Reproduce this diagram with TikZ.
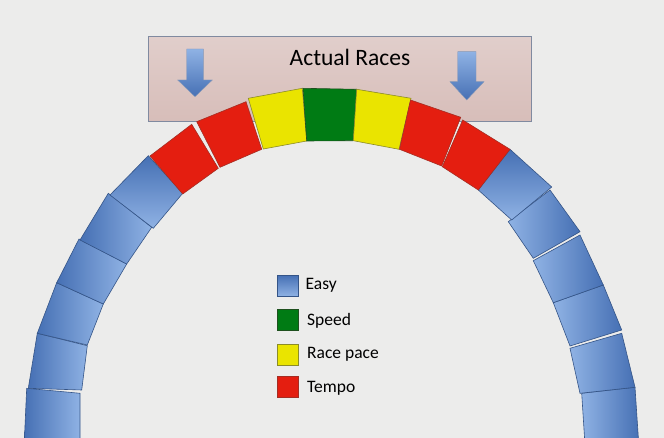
\documentclass[tikz,border=0pt]{standalone}
\usepackage{fontspec}
\setmainfont{Carlito}
\definecolor{bg}{RGB}{236,236,235}
\definecolor{bluedark}{RGB}{70,112,180}
\definecolor{bluelight}{RGB}{143,178,228}
\definecolor{blueline}{RGB}{52,84,135}
\definecolor{redf}{RGB}{228,30,16}
\definecolor{redline}{RGB}{165,45,35}
\definecolor{yellowf}{RGB}{234,228,0}
\definecolor{yellowline}{RGB}{140,140,40}
\definecolor{greenf}{RGB}{0,123,20}
\definecolor{greenline}{RGB}{30,80,30}
\definecolor{racetop}{RGB}{225,206,203}
\definecolor{racebot}{RGB}{215,189,185}
\definecolor{raceline}{RGB}{128,138,160}
\tikzset{
  easyL/.style={left color=bluedark, right color=bluelight, draw=blueline, line width=0.6pt},
  easyR/.style={left color=bluelight, right color=bluedark, draw=blueline, line width=0.6pt},
  easyT/.style={top color=bluedark, bottom color=bluelight, draw=blueline, line width=0.6pt},
  tempo/.style={fill=redf, draw=redline, line width=0.6pt},
  racepace/.style={fill=yellowf, draw=yellowline, line width=0.6pt},
  speed/.style={fill=greenf, draw=greenline, line width=0.6pt},
  downarrow/.style={top color=bluelight, bottom color=bluedark, draw=blueline!60, line width=0.4pt},
  legsq/.style={minimum size=21pt, inner sep=0pt, line width=0.6pt},
  legtxt/.style={anchor=west, inner sep=0pt, font=\fontsize{17.5}{20}\selectfont, text=black}
}
\begin{document}
\begin{tikzpicture}[x=1pt,y=-1pt]
\path[use as bounding box, fill=bg] (0,0) rectangle (664,438);
\clip (0,0) rectangle (664,438);
% Actual races box
\shade[top color=racetop, bottom color=racebot, draw=raceline, line width=0.6pt]
  (148.3,36.7) rectangle (531.7,121.7);
\node[font=\fontsize{23.5}{27}\selectfont, text=black, inner sep=0pt] (title) at (350,57) {Actual Races};
% arrows
\shade[downarrow] (186.7,49) -- (203.3,49) -- (203.3,80) -- (212.3,80) -- (195,96.7) -- (177.7,80) -- (186.7,80) -- cycle;
\shade[downarrow] (457.7,51.7) -- (476,51.7) -- (476,81.7) -- (484,81.7) -- (466.7,100) -- (450,81.7) -- (457.7,81.7) -- cycle;
% left easy blocks
\shade[easyL] (26.7,388.3) -- (80,393.3) -- (80,445) -- (24,448) -- cycle;
\shade[easyL] (37.3,333.3) -- (87.3,345.7) -- (81.7,390) -- (28.3,388.3) -- cycle;
\shade[easyL] (56.7,282.7) -- (103.3,304) -- (87.3,345) -- (37.3,333.3) -- cycle;
\shade[easyL] (79,239) -- (126.7,264) -- (103.3,304) -- (56.7,282.7) -- cycle;
\shade[easyL] (108.3,193.3) -- (151.7,227.3) -- (126.7,264) -- (80,240) -- cycle;
\shade[easyT] (148.3,155.7) -- (182.7,193.3) -- (153.3,228.3) -- (110,195) -- cycle;
% right easy blocks
\shade[easyR] (581.7,393.3) -- (635,387.3) -- (639,448) -- (585,445) -- cycle;
\shade[easyR] (570,348.3) -- (621.7,333.3) -- (635,387.3) -- (580,393.3) -- cycle;
\shade[easyR] (553.3,302.7) -- (603.3,285) -- (621.7,330) -- (570,346) -- cycle;
\shade[easyR] (533.3,260.7) -- (580,235) -- (603.3,285) -- (553.3,302.7) -- cycle;
\shade[easyR] (508.3,221.7) -- (550,190) -- (580,231.7) -- (533.3,258.3) -- cycle;
\shade[easyT] (478.3,190) -- (510,149.3) -- (551.7,187) -- (511.7,220) -- cycle;
% top blocks
\filldraw[tempo] (150,156) -- (191.7,124.3) -- (218.3,168.3) -- (182.7,194) -- cycle;
\filldraw[tempo] (196.7,121.7) -- (246,101.7) -- (261.7,149.3) -- (220,167.3) -- cycle;
\filldraw[racepace] (248.3,98.3) -- (302.3,88.3) -- (306.7,141) -- (263.3,149) -- cycle;
\filldraw[speed] (303,88.3) -- (356.7,89.3) -- (353.3,140.7) -- (306.7,141) -- cycle;
\filldraw[racepace] (356.7,89.3) -- (411,98.3) -- (399,149.3) -- (353.3,140.7) -- cycle;
\filldraw[tempo] (410.5,100) -- (460.7,117.3) -- (441.7,166) -- (399.5,149.3) -- cycle;
\filldraw[tempo] (462.7,120) -- (510,149.3) -- (478.3,190) -- (442.3,166.7) -- cycle;
% legend
\node[legsq, easyT] (sqEasy) at (287.5,285.8) {};
\node[legsq, speed] (sqSpeed) at (287.5,319.7) {};
\node[legsq, racepace] (sqRace) at (287.5,355.2) {};
\node[legsq, tempo] (sqTempo) at (287.5,387) {};
\node[legtxt] (lEasy) at (305.5,285) {Easy};
\node[legtxt] (lSpeed) at (307,321) {Speed};
\node[legtxt] (lRace) at (307,354) {Race pace};
\node[legtxt] (lTempo) at (307,388.5) {Tempo};
\end{tikzpicture}
\end{document}
